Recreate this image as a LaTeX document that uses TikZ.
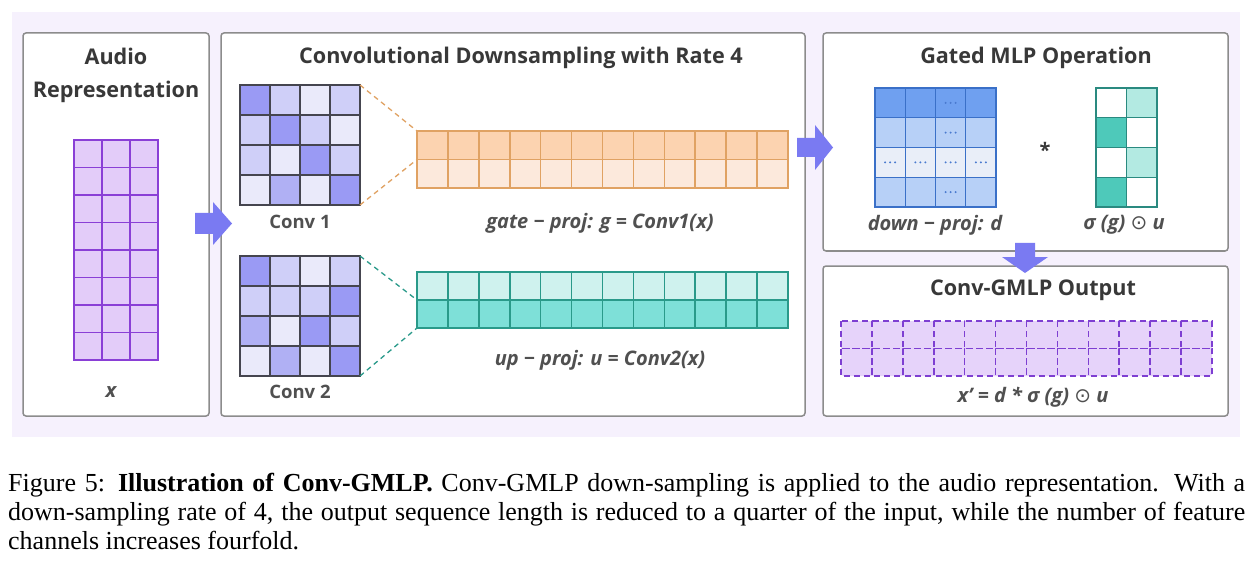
\documentclass[tikz,border=0pt]{standalone}
\usepackage{fontspec}
\setmainfont{Liberation Serif}
\newfontfamily\dfont{Open Sans}
\newfontfamily\symfnt{DejaVu Sans}
\newcommand{\myodot}{{\symfnt\mdseries\upshape ⊙}}
\definecolor{bglav}{HTML}{F6F1FD}
\definecolor{panelb}{HTML}{8C8C8C}
\definecolor{titlec}{HTML}{383838}
\definecolor{labc}{HTML}{505050}
\definecolor{arrowc}{HTML}{7A7AF2}
\definecolor{inpf}{HTML}{E3CCF9}
\definecolor{inpd}{HTML}{8A3FD6}
\definecolor{convD}{HTML}{9A9AF4}
\definecolor{convM}{HTML}{B0B0F4}
\definecolor{convL}{HTML}{CFCFF8}
\definecolor{convV}{HTML}{EAEAFA}
\definecolor{convb}{HTML}{45454F}
\definecolor{oraT}{HTML}{FCD3B0}
\definecolor{oraB}{HTML}{FCE9DC}
\definecolor{orad}{HTML}{E0A263}
\definecolor{tealT}{HTML}{CFF2EE}
\definecolor{tealB}{HTML}{7EE0D8}
\definecolor{teald}{HTML}{2A9A8A}
\definecolor{blu1}{HTML}{6FA0F0}
\definecolor{blu2}{HTML}{B7D0F7}
\definecolor{blu3}{HTML}{E9EEF8}
\definecolor{blud}{HTML}{3A70C8}
\definecolor{bludot}{HTML}{4A7ACF}
\definecolor{sigD}{HTML}{4EC9BA}
\definecolor{sigL}{HTML}{B3EAE2}
\definecolor{sigb}{HTML}{2A8A80}
\definecolor{outf}{HTML}{E6D3FA}
\definecolor{outd}{HTML}{7E3FD2}
\begin{document}
\begin{tikzpicture}[x=1pt,y=-1pt,
  panel/.style={draw=panelb,line width=1.5pt,fill=white,rounded corners=3pt},
  ptitle/.style={font=\dfont\bfseries\fontsize{21.6}{24}\selectfont,text=titlec,align=center},
  clabel/.style={font=\dfont\bfseries\fontsize{18.5}{20}\selectfont,text=labc},
  ilabel/.style={font=\dfont\bfseries\itshape\fontsize{20}{22}\selectfont,text=labc},
  bigarrow/.style={fill=arrowc,draw=none},
  cell/.style={line width=1.6pt},
  odash/.style={draw=orad,line width=1.3pt,dash pattern=on 5pt off 4pt},
  tdash/.style={draw=teald,line width=1.3pt,dash pattern=on 5pt off 4pt},
  captext/.style={font=\fontsize{26}{29}\selectfont,anchor=base west,inner sep=0pt}
]
\useasboundingbox (0,0) rectangle (1257,561);
\fill[bglav] (12,12) rectangle (1240,437);

% panels
\draw[panel] (23,33) rectangle (209,416);
\draw[panel] (221,33) rectangle (805,416);
\draw[panel] (823,33) rectangle (1228,251);
\draw[panel] (823,266) rectangle (1228,416);

% titles
\node[ptitle] (t1a) at (116,56) {Audio};
\node[ptitle] (t1b) at (116,92) {Representation};
\node[ptitle] (t2) at (521,58) {Convolutional Downsampling with Rate 4};
\node[ptitle] (t3) at (1036,58) {Gated MLP Operation};
\node[ptitle] (t4) at (1033,290) {Conv-GMLP Output};

% input grid
\foreach \r in {0,...,7}{
  \foreach \k in {0,1,2}{
    \filldraw[cell,fill=inpf,draw=inpd] (74+28*\k,140+27.5*\r) rectangle ++(28,27.5);
  }
}
\node[ilabel] (xl) at (111,392) {x};

% conv 1
\foreach \row [count=\r from 0] in {{D,L,V,L},{L,D,L,V},{L,V,D,L},{V,M,V,D}}{
  \foreach \c [count=\k from 0] in \row {
    \filldraw[cell,fill=conv\c,draw=convb] (240+30*\k,85+30*\r) rectangle ++(30,30);
  }
}
\coordinate (c1tr) at (360,85);
\coordinate (c1br) at (360,205);
\node[clabel] (c1l) at (300,222) {Conv 1};

% conv 2
\foreach \row [count=\r from 0] in {{D,L,V,L},{L,L,L,D},{M,V,D,L},{V,M,V,D}}{
  \foreach \c [count=\k from 0] in \row {
    \filldraw[cell,fill=conv\c,draw=convb] (240+30*\k,256+30*\r) rectangle ++(30,30);
  }
}
\coordinate (c2tr) at (360,256);
\coordinate (c2br) at (360,376);
\node[clabel] (c2l) at (300,392) {Conv 2};

% orange bar
\foreach \k in {0,...,11}{
  \filldraw[cell,fill=oraT,draw=orad] (417+30.9167*\k,131) rectangle ++(30.9167,28.5);
  \filldraw[cell,fill=oraB,draw=orad] (417+30.9167*\k,159.5) rectangle ++(30.9167,28.5);
}
\coordinate (obt) at (417,131);
\coordinate (obm) at (417,159.5);
\node[ilabel] (gl) at (600,223) {gate − proj: g = Conv1(x)};

% teal bar
\foreach \k in {0,...,11}{
  \filldraw[cell,fill=tealT,draw=teald] (417+30.9167*\k,272) rectangle ++(30.9167,28);
  \filldraw[cell,fill=tealB,draw=teald] (417+30.9167*\k,300) rectangle ++(30.9167,28);
}
\coordinate (tbm) at (417,300);
\coordinate (tbb) at (417,328);
\node[ilabel] (ul) at (600,360) {up − proj: u = Conv2(x)};

% dashed projections
\draw[odash] (c1tr) -- (obt);
\draw[odash] (c1br) -- (obm);
\draw[tdash] (c2tr) -- (tbm);
\draw[tdash] (c2br) -- (tbb);

% down-proj matrix
\foreach \col [count=\r from 0] in {blu1,blu2,blu3,blu2}{
  \foreach \k in {0,...,3}{
    \filldraw[line width=1.2pt,fill=\col,draw=blud] (875+30.25*\k,88+29.75*\r) rectangle ++(30.25,29.75);
  }
}
\foreach \r in {0,1,2,3}{
  \foreach \dx in {-5,0,5}{
    \fill[bludot] (875+30.25*2.5+\dx,88+29.75*\r+14.9) circle (1.1);
  }
}
\foreach \k in {0,1,3}{
  \foreach \dx in {-5,0,5}{
    \fill[bludot] (875+30.25*\k+15.1+\dx,88+29.75*2+14.9) circle (1.1);
  }
}
\node[ilabel] (dl) at (935,225) {down − proj: d};

\node[font=\dfont\bfseries\fontsize{20}{20}\selectfont,text=titlec] (star) at (1045,150) {*};

% sigma matrix
\foreach \ca/\cb [count=\r from 0] in {white/sigL,sigD/white,white/sigL,sigD/white}{
  \filldraw[line width=1.2pt,fill=\ca,draw=sigb] (1096,88+29.75*\r) rectangle ++(30.5,29.75);
  \filldraw[line width=1.2pt,fill=\cb,draw=sigb] (1126.5,88+29.75*\r) rectangle ++(30.5,29.75);
}
\node[ilabel] (sl) at (1124,225) {σ (g) \myodot{} u};

% output
\fill[outf,rounded corners=3pt] (841,321) rectangle (1212,376);
\foreach \k in {0,...,11}{
  \foreach \r in {0,1}{
    \draw[line width=1.6pt,draw=outd,dash pattern=on 6pt off 4pt] (841+30.9167*\k,321+27.5*\r) rectangle ++(30.9167,27.5);
  }
}
\node[ilabel] (ol) at (1033,397) {x’ = d * σ (g) \myodot{} u};

% arrows
\fill[bigarrow] (195,213) -- (213,213) -- (213,202) -- (232,223.5) -- (213,245) -- (213,234) -- (195,234) -- cycle;
\fill[bigarrow] (797,138) -- (815,138) -- (815,125) -- (833,147.5) -- (815,170) -- (815,157) -- (797,157) -- cycle;
\fill[bigarrow] (1015,243) -- (1035,243) -- (1035,257) -- (1048,257) -- (1025,273) -- (1002,257) -- (1015,257) -- cycle;

% caption
\node[captext] (cap1) at (8,491) {\makebox[1237pt][s]{Figure 5: \textbf{Illustration of Conv-GMLP.} Conv-GMLP down-sampling is applied to the audio representation. With a}};
\node[captext] (cap2) at (8,520) {\makebox[1237pt][s]{down-sampling rate of 4, the output sequence length is reduced to a quarter of the input, while the number of feature}};
\node[captext] (cap3) at (8,549) {channels increases fourfold.};
\end{tikzpicture}
\end{document}
